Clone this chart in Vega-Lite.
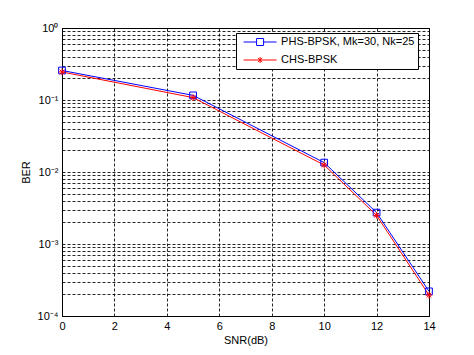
{
  "$schema": "https://vega.github.io/schema/vega-lite/v6.json",
  "width": 367,
  "height": 288,
  "autosize": "none",
  "padding": {"left": 62, "top": 28, "right": 45, "bottom": 39},
  "background": "white",
  "config": {
    "font": "Liberation Sans",
    "view": {"stroke": "#000", "strokeWidth": 1},
    "axis": {
      "domainColor": "#000",
      "labelColor": "#000",
      "titleColor": "#000",
      "labelFontSize": 11,
      "titleFontSize": 11,
      "titleFontWeight": "normal",
      "gridColor": "#000",
      "gridDash": [3, 2],
      "gridOpacity": 0.85,
      "gridWidth": 1,
      "ticks": false
    }
  },
  "data": {
    "values": [
      {"snr": 0, "ber": 0.257, "series": "PHS-BPSK, Mk=30, Nk=25"},
      {"snr": 5, "ber": 0.116, "series": "PHS-BPSK, Mk=30, Nk=25"},
      {"snr": 10, "ber": 0.0135, "series": "PHS-BPSK, Mk=30, Nk=25"},
      {"snr": 12, "ber": 0.00273, "series": "PHS-BPSK, Mk=30, Nk=25"},
      {"snr": 14, "ber": 0.00022, "series": "PHS-BPSK, Mk=30, Nk=25"},
      {"snr": 0, "ber": 0.245, "series": "CHS-BPSK"},
      {"snr": 5, "ber": 0.108, "series": "CHS-BPSK"},
      {"snr": 10, "ber": 0.0125, "series": "CHS-BPSK"},
      {"snr": 12, "ber": 0.0025, "series": "CHS-BPSK"},
      {"snr": 14, "ber": 0.000195, "series": "CHS-BPSK"}
    ]
  },
  "encoding": {
    "x": {
      "field": "snr",
      "type": "quantitative",
      "scale": {"domain": [0, 14], "nice": false},
      "axis": {"values": [0, 2, 4, 6, 8, 10, 12, 14], "title": "SNR(dB)", "labelPadding": 4, "titlePadding": 3, "labelFlush": false}
    },
    "y": {
      "field": "ber",
      "type": "quantitative",
      "scale": {"type": "log", "domain": [0.0001, 1], "nice": false},
      "axis": {
        "values": [0.0001, 0.0002, 0.0003, 0.0004, 0.0005, 0.0006, 0.0007, 0.0008, 0.0009, 0.001, 0.002, 0.003, 0.004, 0.005, 0.006, 0.007, 0.008, 0.009, 0.01, 0.02, 0.03, 0.04, 0.05, 0.06, 0.07, 0.08, 0.09, 0.1, 0.2, 0.3, 0.4, 0.5, 0.6, 0.7, 0.8, 0.9, 1],
        "labelExpr": "datum.value == 1 ? '10⁰' : datum.value == 0.1 ? '10⁻¹' : datum.value == 0.01 ? '10⁻²' : datum.value == 0.001 ? '10⁻³' : datum.value == 0.0001 ? '10⁻⁴' : ''",
        "title": "BER",
        "labelPadding": 4,
        "titlePadding": 6,
        "labelFlush": false,
        "labelOverlap": false
      }
    },
    "color": {
      "field": "series",
      "type": "nominal",
      "scale": {"domain": ["PHS-BPSK, Mk=30, Nk=25", "CHS-BPSK"], "range": ["#0000ff", "#ff0000"]},
      "legend": {
        "title": null,
        "orient": "none",
        "legendX": 174,
        "legendY": 5,
        "strokeColor": "#000",
        "fillColor": "white",
        "padding": 3.5,
        "labelFontSize": 11,
        "labelColor": "#000",
        "symbolSize": 100,
        "symbolStrokeWidth": 1,
        "labelOffset": 30.6,
        "rowPadding": 6,
        "labelExpr": "datum.label + '\u00a0\u00a0'",
        "encode": {
          "symbols": {
            "update": {
              "shape": {"signal": "datum.value === 'CHS-BPSK' ? 'M-0.28,0H6.32M3.02,-0.6V0.6M2.6,-0.42L3.44,0.42M2.6,0.42L3.44,-0.42' : 'M-0.28,0H2.32M3.72,0H6.32M2.32,-0.7H3.72V0.7H2.32Z'"},
              "fill": {"value": "transparent"}
            }
          }
        }
      }
    }
  },
  "layer": [
    {
      "mark": {"type": "line", "strokeWidth": 1}
    },
    {
      "mark": {"type": "point", "filled": false, "strokeWidth": 1, "opacity": 1, "size": 45},
      "encoding": {
        "shape": {
          "condition": {"test": "datum.series === 'CHS-BPSK'", "value": "M-1,0H1M0,-1V1M-0.7,-0.7L0.7,0.7M-0.7,0.7L0.7,-0.7"},
          "value": "square"
        }
      }
    }
  ]
}
